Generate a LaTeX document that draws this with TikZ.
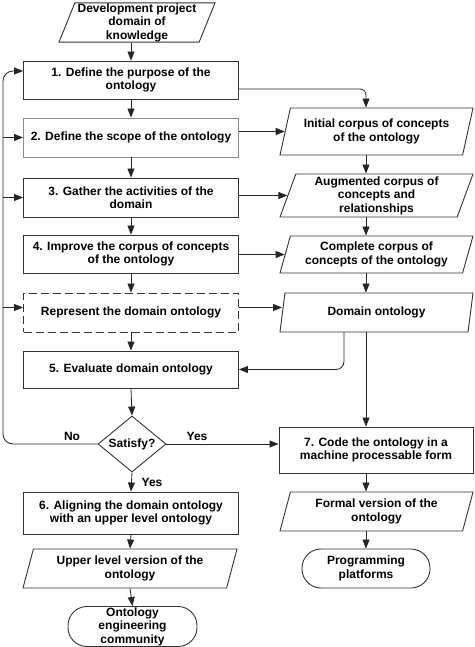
\documentclass[tikz,border=0pt]{standalone}
\usepackage{fontspec}
\setmainfont{Liberation Sans}
\usetikzlibrary{shapes.geometric,arrows.meta,calc}
\begin{document}
\begin{tikzpicture}[x=1pt,y=-1pt,
 base/.style={line width=0.9pt, draw=black!80, fill=white, align=center, font=\bfseries\fontsize{12}{13.5}\selectfont, inner sep=0.5pt},
 box/.style={base, rectangle, minimum width=215pt},
 para/.style={base, trapezium, trapezium left angle=68, trapezium right angle=112, trapezium stretches body},
 term/.style={base, rectangle, rounded corners=19pt},
 dia/.style={base, diamond, aspect=1.2, minimum width=68pt, minimum height=56pt, inner sep=0pt},
 arr/.style={line width=0.8pt, draw=black!85, -{Triangle[length=9pt,width=7pt]}},
 lbl/.style={font=\bfseries\fontsize{12}{13.5}\selectfont}
]
\useasboundingbox (0,0) rectangle (474,647);

% left column
\node[para, minimum width=156pt, minimum height=39pt] (dev) at (137,22.5) {Development project\\domain of\\knowledge};
\node[box, minimum height=38pt] (b1) at (131,80) {1. Define the purpose of the\\ontology};
\node[box, draw=black!45, minimum height=39pt] (b2) at (131,137.5) {2. Define the scope of the ontology};
\node[box, minimum height=39pt] (b3) at (131,197.5) {3. Gather the activities of the\\domain};
\node[box, minimum height=38pt] (b4) at (131,254) {4. Improve the corpus of concepts\\of the ontology};
\node[box, dash pattern=on 8pt off 4pt, minimum height=39pt] (rep) at (131,312.5) {Represent the domain ontology};
\node[box, minimum height=37pt] (b5) at (131,369.5) {5. Evaluate domain ontology};
\node[dia] (sat) at (132,444) {Satisfy?};
\node[box, minimum height=42pt] (b6) at (131,513) {6. Aligning the domain ontology\\with an upper level ontology};
\node[para, minimum width=214pt, minimum height=39pt] (up) at (130,568.5) {Upper level version of the\\ontology};
\node[term, minimum width=129pt, minimum height=40pt] (com) at (132.5,626.5) {Ontology\\engineering\\community};

% right column
\node[para, minimum width=193pt, minimum height=47pt] (p1) at (376.5,131.5) {Initial corpus of concepts\\of the ontology};
\node[para, minimum width=193pt, minimum height=43pt] (p2) at (376.5,195.5) {Augmented corpus of\\concepts and\\relationships};
\node[para, minimum width=193pt, minimum height=37pt] (p3) at (376.5,254.5) {Complete corpus of\\concepts of the ontology};
\node[para, minimum width=193pt, minimum height=39pt] (p4) at (376.5,312.5) {Domain ontology};
\node[box, minimum width=194pt, minimum height=46pt] (b7) at (376,450) {7. Code the ontology in a\\machine processable form};
\node[para, minimum width=193pt, minimum height=39pt] (p5) at (376.5,511.5) {Formal version of the\\ontology};
\node[term, minimum width=128pt, minimum height=39pt] (prog) at (366,568.5) {Programming\\platforms};

% helper coordinates
\coordinate (rc) at (366,0);
\coordinate (lx) at (3,0);
\coordinate (dx) at (344,0);
\coordinate (ty) at ([yshift=9pt]b1.west);

% labels
\node[lbl] (no) at (72,436) {No};
\node[lbl] (yes1) at (197,436) {Yes};
\node[lbl] (yes2) at (152,482) {Yes};

% left column arrows
\draw[arr] (dev.south -| b1.north) -- (b1.north);
\draw[arr] (b1.south) -- (b2.north);
\draw[arr] (b2.south) -- (b3.north);
\draw[arr] (b3.south) -- (b4.north);
\draw[arr] (b4.south) -- (rep.north);
\draw[arr] (rep.south) -- (b5.north);
\draw[arr] (b5.south) -- (sat.north);
\draw[arr] (sat.south) -- (b6.north);
\draw[arr] (b6.south) -- (up.south |- up.north);
\draw[arr] (up.south) -- (com.north);

% horizontal arrows
\draw[arr, rounded corners=6pt] ([yshift=-9pt]b1.east) -| (p1.north -| rc);
\draw[arr] (b2.east |- p1.west) -- (p1.west);
\draw[arr] (b3.east |- p2.west) -- (p2.west);
\draw[arr] (b4.east |- p3.west) -- (p3.west);
\draw[arr] ([yshift=5pt]rep.east) -- ([yshift=5pt]p4.west);
\draw[arr] (sat.east) -- (b7.west |- sat.east);

% right column arrows
\draw[arr] (p1.south -| rc) -- (p2.north -| rc);
\draw[arr] (p2.south -| rc) -- (p3.north -| rc);
\draw[arr] (p3.south -| rc) -- (p4.north -| rc);
\draw[arr] (p4.south -| rc) -- (b7.north -| rc);
\draw[arr] (b7.south -| rc) -- (p5.north -| rc);
\draw[arr] (p5.south -| rc) -- (prog.north);
\draw[arr, rounded corners=8pt] (p4.south -| dx) |- (b5.east);

% feedback loop
\draw[arr, rounded corners=10pt] (sat.west) -| (lx |- ty) -- (ty);
\draw[arr] (lx |- b2.west) -- (b2.west);
\draw[arr] (lx |- b3.west) -- (b3.west);
\draw[arr] ([yshift=5pt]lx |- rep.west) -- ([yshift=5pt]rep.west);
\end{tikzpicture}
\end{document}
